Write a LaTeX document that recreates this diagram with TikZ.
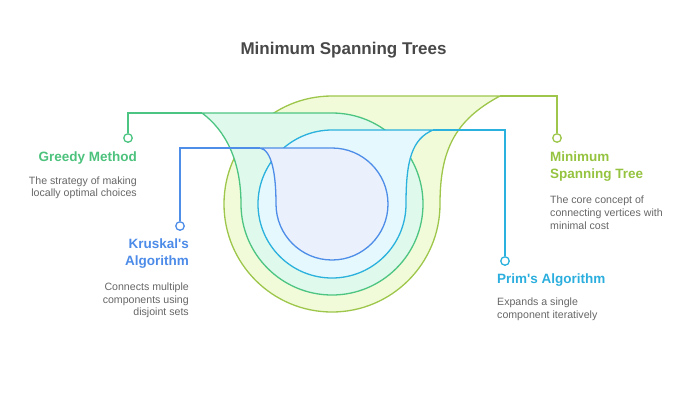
\documentclass[tikz,border=0pt]{standalone}
\usepackage{fontspec}
\setmainfont{Liberation Sans}[Ligatures=TeXOff]
\definecolor{ygS}{HTML}{9DC64B}
\definecolor{ygF}{HTML}{F1FBD9}
\definecolor{grS}{HTML}{4DC582}
\definecolor{grF}{HTML}{DFF9EC}
\definecolor{cyS}{HTML}{2AB1DD}
\definecolor{cyF}{HTML}{E5F8FD}
\definecolor{blS}{HTML}{4E8DE8}
\definecolor{blF}{HTML}{EAF0FC}
\definecolor{descC}{HTML}{666666}
\definecolor{titleC}{HTML}{484848}
\definecolor{ygT}{HTML}{95C340}
\definecolor{grT}{HTML}{4CC27C}
\definecolor{cyT}{HTML}{2BAEDD}
\definecolor{blT}{HTML}{4C8BE8}
\begin{document}
\begin{tikzpicture}[x=1pt,y=-1pt,
  band/.style={line width=1.3pt},
  conn/.style={line width=1.3pt},
  dotmark/.style={circle,fill=white,line width=1.3pt,minimum size=8.5pt,inner sep=0pt},
  head/.style={inner sep=0pt,font=\fontsize{13.5}{17.4}\selectfont\bfseries},
  desc/.style={inner sep=0pt,text=descC,font=\fontsize{10.6}{12.6}\selectfont}]
\useasboundingbox (0,0) rectangle (696,400);
% title
\node[inner sep=0pt,text=titleC,font=\fontsize{17}{20}\selectfont\bfseries,anchor=base] (title) at (343.5,54) {Minimum Spanning Trees};
% bands, back to front
\filldraw[band,draw=ygS,fill=ygF] (500,96) -- (332,96) arc[start angle=270,end angle=0,radius=108] .. controls (440,150) and (455,120) .. (500,96) -- cycle;
\filldraw[band,draw=grS,fill=grF] (202,113) -- (332,113) arc[start angle=270,end angle=540,radius=91] .. controls (241,160) and (225,130) .. (202,113) -- cycle;
\filldraw[band,draw=cyS,fill=cyF] (433,130) -- (332,130) arc[start angle=270,end angle=0,radius=74] .. controls (406,160) and (412,139) .. (433,130) -- cycle;
\filldraw[band,draw=blS,fill=blF] (260,148) -- (332,148) arc[start angle=270,end angle=540,radius=56] .. controls (276,175) and (272,150) .. (260,148) -- cycle;
% connector ends
\coordinate (gtop) at (202,113);
\coordinate (ktop) at (260,148);
\coordinate (ptop) at (433,130);
\coordinate (mtop) at (500,96);
% markers
\node[dotmark,draw=grS] (gm) at (128,138) {};
\node[dotmark,draw=blS] (km) at (180,226) {};
\node[dotmark,draw=cyS] (pm) at (505,261) {};
\node[dotmark,draw=ygS] (mm) at (557,138) {};
% connectors
\draw[conn,grS] (gm.north) |- (gtop);
\draw[conn,blS] (km.north) |- (ktop);
\draw[conn,cyS] (pm.north) |- (ptop);
\draw[conn,ygS] (mm.north) |- (mtop);
% texts (multi-line nodes anchored at last baseline)
\node[head,text=grT,anchor=base east] (gh) at (137,161.5) {Greedy Method};
\node[desc,anchor=base east,align=right] (gd) at (137,196.7) {The strategy of making\\locally optimal choices};
\node[head,text=blT,anchor=base east,align=right] (kh) at (189,265.7) {Kruskal's\\Algorithm};
\node[desc,anchor=base east,align=right] (kd) at (189,315.7) {Connects multiple\\components using\\disjoint sets};
\node[head,text=ygT,anchor=base west,align=left] (mh) at (550,178.5) {Minimum\\Spanning Tree};
\node[desc,anchor=base west,align=left] (md) at (550,229) {The core concept of\\connecting vertices with\\minimal cost};
\node[head,text=cyT,anchor=base west] (ph) at (497,283.3) {Prim's Algorithm};
\node[desc,anchor=base west,align=left] (pd) at (497,318) {Expands a single\\component iteratively};
\end{tikzpicture}
\end{document}
